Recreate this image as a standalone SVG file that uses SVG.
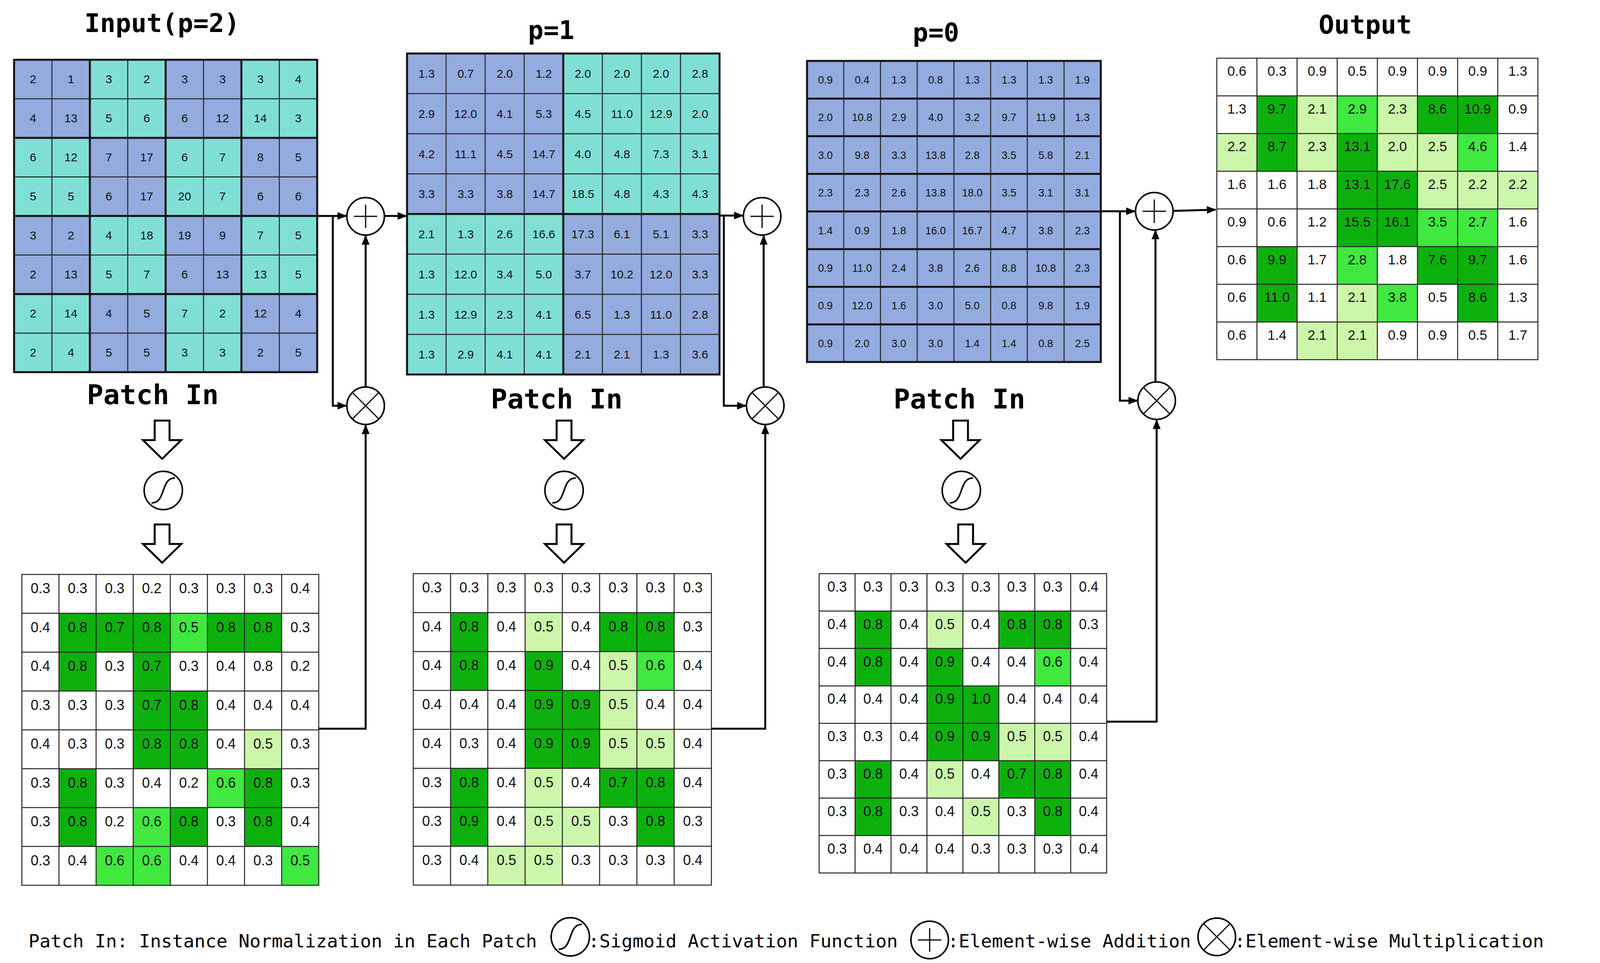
<svg xmlns="http://www.w3.org/2000/svg" width="4255" height="2466" viewBox="0 0 4255 2466">
<defs>
<style>
.bl{fill:#93ABDE}.tl{fill:#80DFD5}.D{fill:#0DB10D}.M{fill:#40E840}.L{fill:#CCF7AA}
.gl{fill:none;stroke:#222;stroke-width:2.5}.gk{fill:none;stroke:#111;stroke-width:5}
.n{font-family:"Liberation Sans",Arial,sans-serif;fill:#111;text-anchor:middle}
.t{font-family:"DejaVu Sans Mono",monospace;font-weight:bold;fill:#000;text-anchor:middle}
.lg{font-family:"DejaVu Sans Mono",monospace;fill:#000;font-size:47px}
.op{fill:#fff;stroke:#000;stroke-width:4}
.ln{fill:none;stroke:#000;stroke-width:5}
.ha{fill:#fff;stroke:#000;stroke-width:5;stroke-linejoin:miter}
</style>
<marker id="ar" viewBox="0 0 10 10" refX="9" refY="5" markerWidth="5" markerHeight="5" markerUnits="strokeWidth" orient="auto"><path d="M0,1 L10,5 L0,9 Z" fill="#000"/></marker>
<g id="plus"><circle r="48" class="op"/><path d="M-30,0H30M0,-30V30" stroke="#000" stroke-width="3"/></g>
<g id="times"><circle r="48" class="op"/><path d="M-34,-34L34,34M34,-34L-34,34" stroke="#000" stroke-width="3"/></g>
<g id="sig"><circle r="49" class="op"/><path d="M-30,32 C8,32 -8,-32 30,-32" fill="none" stroke="#000" stroke-width="4"/></g>
<path id="harrow" class="ha" d="M-19,0 H19 V50 H49 L0,98 L-49,50 H-19 Z"/>
</defs>
<rect width="4255" height="2466" fill="#fff"/>

<text class="t" x="415" y="82" font-size="66">Input(p=2)</text>
<text class="t" x="1411" y="100" font-size="66">p=1</text>
<text class="t" x="2396" y="106" font-size="66">p=0</text>
<text class="t" x="3495" y="86" font-size="66">Output</text>

<!-- Input grid -->
<g id="input" transform="translate(36,153)">
<rect width="776" height="800" class="bl"/>
<rect x="194" y="0" width="194" height="200" class="tl"/><rect x="582" y="0" width="194" height="200" class="tl"/>
<rect x="0" y="200" width="194" height="200" class="tl"/><rect x="388" y="200" width="194" height="200" class="tl"/>
<rect x="194" y="400" width="194" height="200" class="tl"/><rect x="582" y="400" width="194" height="200" class="tl"/>
<rect x="0" y="600" width="194" height="200" class="tl"/><rect x="388" y="600" width="194" height="200" class="tl"/>
<path class="gl" d="M97,0V800M291,0V800M485,0V800M679,0V800M0,100H776M0,300H776M0,500H776M0,700H776"/>
<path class="gk" d="M0,0H776V800H0ZM194,0V800M388,0V800M582,0V800M0,200H776M0,400H776M0,600H776"/>
<g class="n" font-size="30">
<text y="60"><tspan x="48.5">2</tspan><tspan x="145.5">1</tspan><tspan x="242.5">3</tspan><tspan x="339.5">2</tspan><tspan x="436.5">3</tspan><tspan x="533.5">3</tspan><tspan x="630.5">3</tspan><tspan x="727.5">4</tspan></text>
<text y="160"><tspan x="48.5">4</tspan><tspan x="145.5">13</tspan><tspan x="242.5">5</tspan><tspan x="339.5">6</tspan><tspan x="436.5">6</tspan><tspan x="533.5">12</tspan><tspan x="630.5">14</tspan><tspan x="727.5">3</tspan></text>
<text y="260"><tspan x="48.5">6</tspan><tspan x="145.5">12</tspan><tspan x="242.5">7</tspan><tspan x="339.5">17</tspan><tspan x="436.5">6</tspan><tspan x="533.5">7</tspan><tspan x="630.5">8</tspan><tspan x="727.5">5</tspan></text>
<text y="360"><tspan x="48.5">5</tspan><tspan x="145.5">5</tspan><tspan x="242.5">6</tspan><tspan x="339.5">17</tspan><tspan x="436.5">20</tspan><tspan x="533.5">7</tspan><tspan x="630.5">6</tspan><tspan x="727.5">6</tspan></text>
<text y="460"><tspan x="48.5">3</tspan><tspan x="145.5">2</tspan><tspan x="242.5">4</tspan><tspan x="339.5">18</tspan><tspan x="436.5">19</tspan><tspan x="533.5">9</tspan><tspan x="630.5">7</tspan><tspan x="727.5">5</tspan></text>
<text y="560"><tspan x="48.5">2</tspan><tspan x="145.5">13</tspan><tspan x="242.5">5</tspan><tspan x="339.5">7</tspan><tspan x="436.5">6</tspan><tspan x="533.5">13</tspan><tspan x="630.5">13</tspan><tspan x="727.5">5</tspan></text>
<text y="660"><tspan x="48.5">2</tspan><tspan x="145.5">14</tspan><tspan x="242.5">4</tspan><tspan x="339.5">5</tspan><tspan x="436.5">7</tspan><tspan x="533.5">2</tspan><tspan x="630.5">12</tspan><tspan x="727.5">4</tspan></text>
<text y="760"><tspan x="48.5">2</tspan><tspan x="145.5">4</tspan><tspan x="242.5">5</tspan><tspan x="339.5">5</tspan><tspan x="436.5">3</tspan><tspan x="533.5">3</tspan><tspan x="630.5">2</tspan><tspan x="727.5">5</tspan></text>
</g></g>

<!-- p=1 grid -->
<g id="p1" transform="translate(1042,137)">
<rect width="800" height="822" class="bl"/>
<rect x="400" y="0" width="400" height="411" class="tl"/><rect x="0" y="411" width="400" height="411" class="tl"/>
<path class="gl" d="M100,0V822M200,0V822M300,0V822M500,0V822M600,0V822M700,0V822M0,102.75H800M0,205.5H800M0,308.25H800M0,513.75H800M0,616.5H800M0,719.25H800"/>
<path class="gk" d="M0,0H800V822H0ZM400,0V822M0,411H800"/>
<g class="n" font-size="30">
<text y="62"><tspan x="50">1.3</tspan><tspan x="150">0.7</tspan><tspan x="250">2.0</tspan><tspan x="350">1.2</tspan><tspan x="450">2.0</tspan><tspan x="550">2.0</tspan><tspan x="650">2.0</tspan><tspan x="750">2.8</tspan></text>
<text y="164.75"><tspan x="50">2.9</tspan><tspan x="150">12.0</tspan><tspan x="250">4.1</tspan><tspan x="350">5.3</tspan><tspan x="450">4.5</tspan><tspan x="550">11.0</tspan><tspan x="650">12.9</tspan><tspan x="750">2.0</tspan></text>
<text y="267.5"><tspan x="50">4.2</tspan><tspan x="150">11.1</tspan><tspan x="250">4.5</tspan><tspan x="350">14.7</tspan><tspan x="450">4.0</tspan><tspan x="550">4.8</tspan><tspan x="650">7.3</tspan><tspan x="750">3.1</tspan></text>
<text y="370.25"><tspan x="50">3.3</tspan><tspan x="150">3.3</tspan><tspan x="250">3.8</tspan><tspan x="350">14.7</tspan><tspan x="450">18.5</tspan><tspan x="550">4.8</tspan><tspan x="650">4.3</tspan><tspan x="750">4.3</tspan></text>
<text y="473"><tspan x="50">2.1</tspan><tspan x="150">1.3</tspan><tspan x="250">2.6</tspan><tspan x="350">16.6</tspan><tspan x="450">17.3</tspan><tspan x="550">6.1</tspan><tspan x="650">5.1</tspan><tspan x="750">3.3</tspan></text>
<text y="575.75"><tspan x="50">1.3</tspan><tspan x="150">12.0</tspan><tspan x="250">3.4</tspan><tspan x="350">5.0</tspan><tspan x="450">3.7</tspan><tspan x="550">10.2</tspan><tspan x="650">12.0</tspan><tspan x="750">3.3</tspan></text>
<text y="678.5"><tspan x="50">1.3</tspan><tspan x="150">12.9</tspan><tspan x="250">2.3</tspan><tspan x="350">4.1</tspan><tspan x="450">6.5</tspan><tspan x="550">1.3</tspan><tspan x="650">11.0</tspan><tspan x="750">2.8</tspan></text>
<text y="781.25"><tspan x="50">1.3</tspan><tspan x="150">2.9</tspan><tspan x="250">4.1</tspan><tspan x="350">4.1</tspan><tspan x="450">2.1</tspan><tspan x="550">2.1</tspan><tspan x="650">1.3</tspan><tspan x="750">3.6</tspan></text>
</g></g>

<!-- p=0 grid -->
<g id="p0" transform="translate(2066,156)">
<rect width="752" height="771" class="bl"/>
<path class="gl" d="M94,0V771M188,0V771M282,0V771M376,0V771M470,0V771M564,0V771M658,0V771"/>
<path class="gk" d="M0,0H752V771H0ZM0,96.4H752M0,192.8H752M0,289.2H752M0,385.6H752M0,482H752M0,578.4H752M0,674.8H752" stroke-width="3.5"/>
<g class="n" font-size="27">
<text y="58"><tspan x="47">0.9</tspan><tspan x="141">0.4</tspan><tspan x="235">1.3</tspan><tspan x="329">0.8</tspan><tspan x="423">1.3</tspan><tspan x="517">1.3</tspan><tspan x="611">1.3</tspan><tspan x="705">1.9</tspan></text>
<text y="154.4"><tspan x="47">2.0</tspan><tspan x="141">10.8</tspan><tspan x="235">2.9</tspan><tspan x="329">4.0</tspan><tspan x="423">3.2</tspan><tspan x="517">9.7</tspan><tspan x="611">11.9</tspan><tspan x="705">1.3</tspan></text>
<text y="250.8"><tspan x="47">3.0</tspan><tspan x="141">9.8</tspan><tspan x="235">3.3</tspan><tspan x="329">13.8</tspan><tspan x="423">2.8</tspan><tspan x="517">3.5</tspan><tspan x="611">5.8</tspan><tspan x="705">2.1</tspan></text>
<text y="347.2"><tspan x="47">2.3</tspan><tspan x="141">2.3</tspan><tspan x="235">2.6</tspan><tspan x="329">13.8</tspan><tspan x="423">18.0</tspan><tspan x="517">3.5</tspan><tspan x="611">3.1</tspan><tspan x="705">3.1</tspan></text>
<text y="443.6"><tspan x="47">1.4</tspan><tspan x="141">0.9</tspan><tspan x="235">1.8</tspan><tspan x="329">16.0</tspan><tspan x="423">16.7</tspan><tspan x="517">4.7</tspan><tspan x="611">3.8</tspan><tspan x="705">2.3</tspan></text>
<text y="540"><tspan x="47">0.9</tspan><tspan x="141">11.0</tspan><tspan x="235">2.4</tspan><tspan x="329">3.8</tspan><tspan x="423">2.6</tspan><tspan x="517">8.8</tspan><tspan x="611">10.8</tspan><tspan x="705">2.3</tspan></text>
<text y="636.4"><tspan x="47">0.9</tspan><tspan x="141">12.0</tspan><tspan x="235">1.6</tspan><tspan x="329">3.0</tspan><tspan x="423">5.0</tspan><tspan x="517">0.8</tspan><tspan x="611">9.8</tspan><tspan x="705">1.9</tspan></text>
<text y="732.8"><tspan x="47">0.9</tspan><tspan x="141">2.0</tspan><tspan x="235">3.0</tspan><tspan x="329">3.0</tspan><tspan x="423">1.4</tspan><tspan x="517">1.4</tspan><tspan x="611">0.8</tspan><tspan x="705">2.5</tspan></text>
</g></g>

<!-- Output grid -->
<g id="output" transform="translate(3115,149)">
<rect width="822" height="772" fill="#fff"/>
<g>
<rect x="102.75" y="96.5" width="102.75" height="96.5" class="D"/><rect x="205.5" y="96.5" width="102.75" height="96.5" class="L"/><rect x="308.25" y="96.5" width="102.75" height="96.5" class="M"/><rect x="411" y="96.5" width="102.75" height="96.5" class="L"/><rect x="513.75" y="96.5" width="102.75" height="96.5" class="D"/><rect x="616.5" y="96.5" width="102.75" height="96.5" class="D"/>
<rect x="0" y="193" width="102.75" height="96.5" class="L"/><rect x="102.75" y="193" width="102.75" height="96.5" class="D"/><rect x="205.5" y="193" width="102.75" height="96.5" class="L"/><rect x="308.25" y="193" width="102.75" height="96.5" class="D"/><rect x="411" y="193" width="102.75" height="96.5" class="L"/><rect x="513.75" y="193" width="102.75" height="96.5" class="L"/><rect x="616.5" y="193" width="102.75" height="96.5" class="M"/>
<rect x="308.25" y="289.5" width="102.75" height="96.5" class="D"/><rect x="411" y="289.5" width="102.75" height="96.5" class="D"/><rect x="513.75" y="289.5" width="102.75" height="96.5" class="L"/><rect x="616.5" y="289.5" width="102.75" height="96.5" class="L"/><rect x="719.25" y="289.5" width="102.75" height="96.5" class="L"/>
<rect x="308.25" y="386" width="102.75" height="96.5" class="D"/><rect x="411" y="386" width="102.75" height="96.5" class="D"/><rect x="513.75" y="386" width="102.75" height="96.5" class="M"/><rect x="616.5" y="386" width="102.75" height="96.5" class="M"/>
<rect x="102.75" y="482.5" width="102.75" height="96.5" class="D"/><rect x="308.25" y="482.5" width="102.75" height="96.5" class="M"/><rect x="513.75" y="482.5" width="102.75" height="96.5" class="D"/><rect x="616.5" y="482.5" width="102.75" height="96.5" class="D"/>
<rect x="102.75" y="579" width="102.75" height="96.5" class="D"/><rect x="308.25" y="579" width="102.75" height="96.5" class="L"/><rect x="411" y="579" width="102.75" height="96.5" class="M"/><rect x="616.5" y="579" width="102.75" height="96.5" class="D"/>
<rect x="205.5" y="675.5" width="102.75" height="96.5" class="L"/><rect x="308.25" y="675.5" width="102.75" height="96.5" class="L"/>
</g>
<path class="gl" d="M0,0H822V772H0ZM102.75,0V772M205.5,0V772M308.25,0V772M411,0V772M513.75,0V772M616.5,0V772M719.25,0V772M0,96.5H822M0,193H822M0,289.5H822M0,386H822M0,482.5H822M0,579H822M0,675.5H822"/>
<g class="n" font-size="35">
<text y="45"><tspan x="51.4">0.6</tspan><tspan x="154.1">0.3</tspan><tspan x="256.9">0.9</tspan><tspan x="359.6">0.5</tspan><tspan x="462.4">0.9</tspan><tspan x="565.1">0.9</tspan><tspan x="667.9">0.9</tspan><tspan x="770.6">1.3</tspan></text>
<text y="141.5"><tspan x="51.4">1.3</tspan><tspan x="154.1">9.7</tspan><tspan x="256.9">2.1</tspan><tspan x="359.6">2.9</tspan><tspan x="462.4">2.3</tspan><tspan x="565.1">8.6</tspan><tspan x="667.9">10.9</tspan><tspan x="770.6">0.9</tspan></text>
<text y="238"><tspan x="51.4">2.2</tspan><tspan x="154.1">8.7</tspan><tspan x="256.9">2.3</tspan><tspan x="359.6">13.1</tspan><tspan x="462.4">2.0</tspan><tspan x="565.1">2.5</tspan><tspan x="667.9">4.6</tspan><tspan x="770.6">1.4</tspan></text>
<text y="334.5"><tspan x="51.4">1.6</tspan><tspan x="154.1">1.6</tspan><tspan x="256.9">1.8</tspan><tspan x="359.6">13.1</tspan><tspan x="462.4">17.6</tspan><tspan x="565.1">2.5</tspan><tspan x="667.9">2.2</tspan><tspan x="770.6">2.2</tspan></text>
<text y="431"><tspan x="51.4">0.9</tspan><tspan x="154.1">0.6</tspan><tspan x="256.9">1.2</tspan><tspan x="359.6">15.5</tspan><tspan x="462.4">16.1</tspan><tspan x="565.1">3.5</tspan><tspan x="667.9">2.7</tspan><tspan x="770.6">1.6</tspan></text>
<text y="527.5"><tspan x="51.4">0.6</tspan><tspan x="154.1">9.9</tspan><tspan x="256.9">1.7</tspan><tspan x="359.6">2.8</tspan><tspan x="462.4">1.8</tspan><tspan x="565.1">7.6</tspan><tspan x="667.9">9.7</tspan><tspan x="770.6">1.6</tspan></text>
<text y="624"><tspan x="51.4">0.6</tspan><tspan x="154.1">11.0</tspan><tspan x="256.9">1.1</tspan><tspan x="359.6">2.1</tspan><tspan x="462.4">3.8</tspan><tspan x="565.1">0.5</tspan><tspan x="667.9">8.6</tspan><tspan x="770.6">1.3</tspan></text>
<text y="720.5"><tspan x="51.4">0.6</tspan><tspan x="154.1">1.4</tspan><tspan x="256.9">2.1</tspan><tspan x="359.6">2.1</tspan><tspan x="462.4">0.9</tspan><tspan x="565.1">0.9</tspan><tspan x="667.9">0.5</tspan><tspan x="770.6">1.7</tspan></text>
</g></g>

<!-- Patch In labels, arrows, sigmoid -->
<g id="col1">
<text class="t" x="391" y="1035" font-size="70">Patch In</text>
<use href="#harrow" x="415" y="1077"/><use href="#sig" x="418" y="1256"/><use href="#harrow" x="415" y="1343"/>
</g>
<g id="col2">
<text class="t" x="1425" y="1046" font-size="70">Patch In</text>
<use href="#harrow" x="1444" y="1077"/><use href="#sig" x="1444" y="1256"/><use href="#harrow" x="1444" y="1343"/>
</g>
<g id="col3">
<text class="t" x="2456" y="1046" font-size="70">Patch In</text>
<use href="#harrow" x="2459" y="1077"/><use href="#sig" x="2461" y="1256"/><use href="#harrow" x="2472" y="1343"/>
</g>

<!-- Bottom grid A -->
<g id="sigA" transform="translate(56,1471)">
<rect width="760" height="796" fill="#fff"/>
<g>
<rect x="95" y="99.5" width="95" height="99.5" class="D"/><rect x="190" y="99.5" width="95" height="99.5" class="D"/><rect x="285" y="99.5" width="95" height="99.5" class="D"/><rect x="380" y="99.5" width="95" height="99.5" class="M"/><rect x="475" y="99.5" width="95" height="99.5" class="D"/><rect x="570" y="99.5" width="95" height="99.5" class="D"/>
<rect x="95" y="199" width="95" height="99.5" class="D"/><rect x="285" y="199" width="95" height="99.5" class="D"/>
<rect x="285" y="298.5" width="95" height="99.5" class="D"/><rect x="380" y="298.5" width="95" height="99.5" class="D"/>
<rect x="285" y="398" width="95" height="99.5" class="D"/><rect x="380" y="398" width="95" height="99.5" class="D"/><rect x="570" y="398" width="95" height="99.5" class="L"/>
<rect x="95" y="497.5" width="95" height="99.5" class="D"/><rect x="475" y="497.5" width="95" height="99.5" class="M"/><rect x="570" y="497.5" width="95" height="99.5" class="D"/>
<rect x="95" y="597" width="95" height="99.5" class="D"/><rect x="285" y="597" width="95" height="99.5" class="M"/><rect x="380" y="597" width="95" height="99.5" class="D"/><rect x="570" y="597" width="95" height="99.5" class="D"/>
<rect x="190" y="696.5" width="95" height="99.5" class="M"/><rect x="285" y="696.5" width="95" height="99.5" class="M"/><rect x="665" y="696.5" width="95" height="99.5" class="M"/>
</g>
<path class="gl" d="M0,0H760V796H0ZM95,0V796M190,0V796M285,0V796M380,0V796M475,0V796M570,0V796M665,0V796M0,99.5H760M0,199H760M0,298.5H760M0,398H760M0,497.5H760M0,597H760M0,696.5H760"/>
<g class="n" font-size="36">
<text y="48"><tspan x="47.5">0.3</tspan><tspan x="142.5">0.3</tspan><tspan x="237.5">0.3</tspan><tspan x="332.5">0.2</tspan><tspan x="427.5">0.3</tspan><tspan x="522.5">0.3</tspan><tspan x="617.5">0.3</tspan><tspan x="712.5">0.4</tspan></text>
<text y="147.5"><tspan x="47.5">0.4</tspan><tspan x="142.5">0.8</tspan><tspan x="237.5">0.7</tspan><tspan x="332.5">0.8</tspan><tspan x="427.5">0.5</tspan><tspan x="522.5">0.8</tspan><tspan x="617.5">0.8</tspan><tspan x="712.5">0.3</tspan></text>
<text y="247"><tspan x="47.5">0.4</tspan><tspan x="142.5">0.8</tspan><tspan x="237.5">0.3</tspan><tspan x="332.5">0.7</tspan><tspan x="427.5">0.3</tspan><tspan x="522.5">0.4</tspan><tspan x="617.5">0.8</tspan><tspan x="712.5">0.2</tspan></text>
<text y="346.5"><tspan x="47.5">0.3</tspan><tspan x="142.5">0.3</tspan><tspan x="237.5">0.3</tspan><tspan x="332.5">0.7</tspan><tspan x="427.5">0.8</tspan><tspan x="522.5">0.4</tspan><tspan x="617.5">0.4</tspan><tspan x="712.5">0.4</tspan></text>
<text y="446"><tspan x="47.5">0.4</tspan><tspan x="142.5">0.3</tspan><tspan x="237.5">0.3</tspan><tspan x="332.5">0.8</tspan><tspan x="427.5">0.8</tspan><tspan x="522.5">0.4</tspan><tspan x="617.5">0.5</tspan><tspan x="712.5">0.3</tspan></text>
<text y="545.5"><tspan x="47.5">0.3</tspan><tspan x="142.5">0.8</tspan><tspan x="237.5">0.3</tspan><tspan x="332.5">0.4</tspan><tspan x="427.5">0.2</tspan><tspan x="522.5">0.6</tspan><tspan x="617.5">0.8</tspan><tspan x="712.5">0.3</tspan></text>
<text y="645"><tspan x="47.5">0.3</tspan><tspan x="142.5">0.8</tspan><tspan x="237.5">0.2</tspan><tspan x="332.5">0.6</tspan><tspan x="427.5">0.8</tspan><tspan x="522.5">0.3</tspan><tspan x="617.5">0.8</tspan><tspan x="712.5">0.4</tspan></text>
<text y="744.5"><tspan x="47.5">0.3</tspan><tspan x="142.5">0.4</tspan><tspan x="237.5">0.6</tspan><tspan x="332.5">0.6</tspan><tspan x="427.5">0.4</tspan><tspan x="522.5">0.4</tspan><tspan x="617.5">0.3</tspan><tspan x="712.5">0.5</tspan></text>
</g></g>

<!-- Bottom grid B -->
<g id="sigB" transform="translate(1058,1469)">
<rect width="763.2" height="797.6" fill="#fff"/>
<g>
<rect x="95.4" y="99.7" width="95.4" height="99.7" class="D"/><rect x="286.2" y="99.7" width="95.4" height="99.7" class="L"/><rect x="477" y="99.7" width="95.4" height="99.7" class="D"/><rect x="572.4" y="99.7" width="95.4" height="99.7" class="D"/>
<rect x="95.4" y="199.4" width="95.4" height="99.7" class="D"/><rect x="286.2" y="199.4" width="95.4" height="99.7" class="D"/><rect x="477" y="199.4" width="95.4" height="99.7" class="L"/><rect x="572.4" y="199.4" width="95.4" height="99.7" class="M"/>
<rect x="286.2" y="299.1" width="95.4" height="99.7" class="D"/><rect x="381.6" y="299.1" width="95.4" height="99.7" class="D"/><rect x="477" y="299.1" width="95.4" height="99.7" class="L"/>
<rect x="286.2" y="398.8" width="95.4" height="99.7" class="D"/><rect x="381.6" y="398.8" width="95.4" height="99.7" class="D"/><rect x="477" y="398.8" width="95.4" height="99.7" class="L"/><rect x="572.4" y="398.8" width="95.4" height="99.7" class="L"/>
<rect x="95.4" y="498.5" width="95.4" height="99.7" class="D"/><rect x="286.2" y="498.5" width="95.4" height="99.7" class="L"/><rect x="477" y="498.5" width="95.4" height="99.7" class="D"/><rect x="572.4" y="498.5" width="95.4" height="99.7" class="D"/>
<rect x="95.4" y="598.2" width="95.4" height="99.7" class="D"/><rect x="286.2" y="598.2" width="95.4" height="99.7" class="L"/><rect x="381.6" y="598.2" width="95.4" height="99.7" class="L"/><rect x="572.4" y="598.2" width="95.4" height="99.7" class="D"/>
<rect x="190.8" y="697.9" width="95.4" height="99.7" class="L"/><rect x="286.2" y="697.9" width="95.4" height="99.7" class="L"/>
</g>
<path class="gl" d="M0,0H763.2V797.6H0ZM95.4,0V797.6M190.8,0V797.6M286.2,0V797.6M381.6,0V797.6M477,0V797.6M572.4,0V797.6M667.8,0V797.6M0,99.7H763.2M0,199.4H763.2M0,299.1H763.2M0,398.8H763.2M0,498.5H763.2M0,598.2H763.2M0,697.9H763.2"/>
<g class="n" font-size="36">
<text y="48"><tspan x="47.7">0.3</tspan><tspan x="143.1">0.3</tspan><tspan x="238.5">0.3</tspan><tspan x="333.9">0.3</tspan><tspan x="429.3">0.3</tspan><tspan x="524.7">0.3</tspan><tspan x="620.1">0.3</tspan><tspan x="715.5">0.3</tspan></text>
<text y="147.7"><tspan x="47.7">0.4</tspan><tspan x="143.1">0.8</tspan><tspan x="238.5">0.4</tspan><tspan x="333.9">0.5</tspan><tspan x="429.3">0.4</tspan><tspan x="524.7">0.8</tspan><tspan x="620.1">0.8</tspan><tspan x="715.5">0.3</tspan></text>
<text y="247.4"><tspan x="47.7">0.4</tspan><tspan x="143.1">0.8</tspan><tspan x="238.5">0.4</tspan><tspan x="333.9">0.9</tspan><tspan x="429.3">0.4</tspan><tspan x="524.7">0.5</tspan><tspan x="620.1">0.6</tspan><tspan x="715.5">0.4</tspan></text>
<text y="347.1"><tspan x="47.7">0.4</tspan><tspan x="143.1">0.4</tspan><tspan x="238.5">0.4</tspan><tspan x="333.9">0.9</tspan><tspan x="429.3">0.9</tspan><tspan x="524.7">0.5</tspan><tspan x="620.1">0.4</tspan><tspan x="715.5">0.4</tspan></text>
<text y="446.8"><tspan x="47.7">0.4</tspan><tspan x="143.1">0.3</tspan><tspan x="238.5">0.4</tspan><tspan x="333.9">0.9</tspan><tspan x="429.3">0.9</tspan><tspan x="524.7">0.5</tspan><tspan x="620.1">0.5</tspan><tspan x="715.5">0.4</tspan></text>
<text y="546.5"><tspan x="47.7">0.3</tspan><tspan x="143.1">0.8</tspan><tspan x="238.5">0.4</tspan><tspan x="333.9">0.5</tspan><tspan x="429.3">0.4</tspan><tspan x="524.7">0.7</tspan><tspan x="620.1">0.8</tspan><tspan x="715.5">0.4</tspan></text>
<text y="646.2"><tspan x="47.7">0.3</tspan><tspan x="143.1">0.9</tspan><tspan x="238.5">0.4</tspan><tspan x="333.9">0.5</tspan><tspan x="429.3">0.5</tspan><tspan x="524.7">0.3</tspan><tspan x="620.1">0.8</tspan><tspan x="715.5">0.3</tspan></text>
<text y="745.9"><tspan x="47.7">0.3</tspan><tspan x="143.1">0.4</tspan><tspan x="238.5">0.5</tspan><tspan x="333.9">0.5</tspan><tspan x="429.3">0.3</tspan><tspan x="524.7">0.3</tspan><tspan x="620.1">0.3</tspan><tspan x="715.5">0.4</tspan></text>
</g></g>

<!-- Bottom grid C -->
<g id="sigC" transform="translate(2097,1469)">
<rect width="736" height="766.4" fill="#fff"/>
<g>
<rect x="92" y="95.8" width="92" height="95.8" class="D"/><rect x="276" y="95.8" width="92" height="95.8" class="L"/><rect x="460" y="95.8" width="92" height="95.8" class="D"/><rect x="552" y="95.8" width="92" height="95.8" class="D"/>
<rect x="92" y="191.6" width="92" height="95.8" class="D"/><rect x="276" y="191.6" width="92" height="95.8" class="D"/><rect x="552" y="191.6" width="92" height="95.8" class="M"/>
<rect x="276" y="287.4" width="92" height="95.8" class="D"/><rect x="368" y="287.4" width="92" height="95.8" class="D"/>
<rect x="276" y="383.2" width="92" height="95.8" class="D"/><rect x="368" y="383.2" width="92" height="95.8" class="D"/><rect x="460" y="383.2" width="92" height="95.8" class="L"/><rect x="552" y="383.2" width="92" height="95.8" class="L"/>
<rect x="92" y="479" width="92" height="95.8" class="D"/><rect x="276" y="479" width="92" height="95.8" class="L"/><rect x="460" y="479" width="92" height="95.8" class="D"/><rect x="552" y="479" width="92" height="95.8" class="D"/>
<rect x="92" y="574.8" width="92" height="95.8" class="D"/><rect x="368" y="574.8" width="92" height="95.8" class="L"/><rect x="552" y="574.8" width="92" height="95.8" class="D"/>
</g>
<path class="gl" d="M0,0H736V766.4H0ZM92,0V766.4M184,0V766.4M276,0V766.4M368,0V766.4M460,0V766.4M552,0V766.4M644,0V766.4M0,95.8H736M0,191.6H736M0,287.4H736M0,383.2H736M0,479H736M0,574.8H736M0,670.6H736"/>
<g class="n" font-size="36">
<text y="46"><tspan x="46">0.3</tspan><tspan x="138">0.3</tspan><tspan x="230">0.3</tspan><tspan x="322">0.3</tspan><tspan x="414">0.3</tspan><tspan x="506">0.3</tspan><tspan x="598">0.3</tspan><tspan x="690">0.4</tspan></text>
<text y="141.8"><tspan x="46">0.4</tspan><tspan x="138">0.8</tspan><tspan x="230">0.4</tspan><tspan x="322">0.5</tspan><tspan x="414">0.4</tspan><tspan x="506">0.8</tspan><tspan x="598">0.8</tspan><tspan x="690">0.3</tspan></text>
<text y="237.6"><tspan x="46">0.4</tspan><tspan x="138">0.8</tspan><tspan x="230">0.4</tspan><tspan x="322">0.9</tspan><tspan x="414">0.4</tspan><tspan x="506">0.4</tspan><tspan x="598">0.6</tspan><tspan x="690">0.4</tspan></text>
<text y="333.4"><tspan x="46">0.4</tspan><tspan x="138">0.4</tspan><tspan x="230">0.4</tspan><tspan x="322">0.9</tspan><tspan x="414">1.0</tspan><tspan x="506">0.4</tspan><tspan x="598">0.4</tspan><tspan x="690">0.4</tspan></text>
<text y="429.2"><tspan x="46">0.3</tspan><tspan x="138">0.3</tspan><tspan x="230">0.4</tspan><tspan x="322">0.9</tspan><tspan x="414">0.9</tspan><tspan x="506">0.5</tspan><tspan x="598">0.5</tspan><tspan x="690">0.4</tspan></text>
<text y="525"><tspan x="46">0.3</tspan><tspan x="138">0.8</tspan><tspan x="230">0.4</tspan><tspan x="322">0.5</tspan><tspan x="414">0.4</tspan><tspan x="506">0.7</tspan><tspan x="598">0.8</tspan><tspan x="690">0.4</tspan></text>
<text y="620.8"><tspan x="46">0.3</tspan><tspan x="138">0.8</tspan><tspan x="230">0.3</tspan><tspan x="322">0.4</tspan><tspan x="414">0.5</tspan><tspan x="506">0.3</tspan><tspan x="598">0.8</tspan><tspan x="690">0.4</tspan></text>
<text y="716.6"><tspan x="46">0.3</tspan><tspan x="138">0.4</tspan><tspan x="230">0.4</tspan><tspan x="322">0.4</tspan><tspan x="414">0.3</tspan><tspan x="506">0.3</tspan><tspan x="598">0.3</tspan><tspan x="690">0.4</tspan></text>
</g></g>

<!-- Connectors -->
<g id="connectors" class="ln">
<path d="M812,553 H886" marker-end="url(#ar)"/>
<path d="M852,553 V1039 H886" marker-end="url(#ar)"/>
<path d="M984,553 H1040" marker-end="url(#ar)"/>
<path d="M936,991 V604" marker-end="url(#ar)"/>
<path d="M816,1866 H936 V1089" marker-end="url(#ar)"/>
<path d="M1842,552 H1901" marker-end="url(#ar)"/>
<path d="M1853,552 V1039 H1909" marker-end="url(#ar)"/>
<path d="M1955,991 V604" marker-end="url(#ar)"/>
<path d="M1821,1866 H1959 V1089" marker-end="url(#ar)"/>
<path d="M2818,541 H2905" marker-end="url(#ar)"/>
<path d="M2867,541 V1026 H2911" marker-end="url(#ar)"/>
<path d="M3004,540 L3112,537" marker-end="url(#ar)"/>
<path d="M2958,978 V590" marker-end="url(#ar)"/>
<path d="M2833,1848 H2961 V1076" marker-end="url(#ar)"/>
</g>

<g id="ops">
<use href="#plus" x="936" y="554"/><use href="#times" x="936" y="1039"/>
<use href="#plus" x="1951" y="554"/><use href="#times" x="1959" y="1039"/>
<use href="#plus" x="2955" y="541"/><use href="#times" x="2961" y="1026"/>
</g>

<!-- Legend -->
<g id="legend">
<text class="lg" x="73" y="2426">Patch In: Instance Normalization in Each Patch</text>
<use href="#sig" x="1460" y="2399"/>
<text class="lg" x="1506" y="2426">:Sigmoid Activation Function</text>
<use href="#plus" x="2380" y="2407"/>
<text class="lg" x="2426" y="2426">:Element-wise Addition</text>
<use href="#times" x="3115" y="2399"/>
<text class="lg" x="3160" y="2426">:Element-wise Multiplication</text>
</g>
</svg>
